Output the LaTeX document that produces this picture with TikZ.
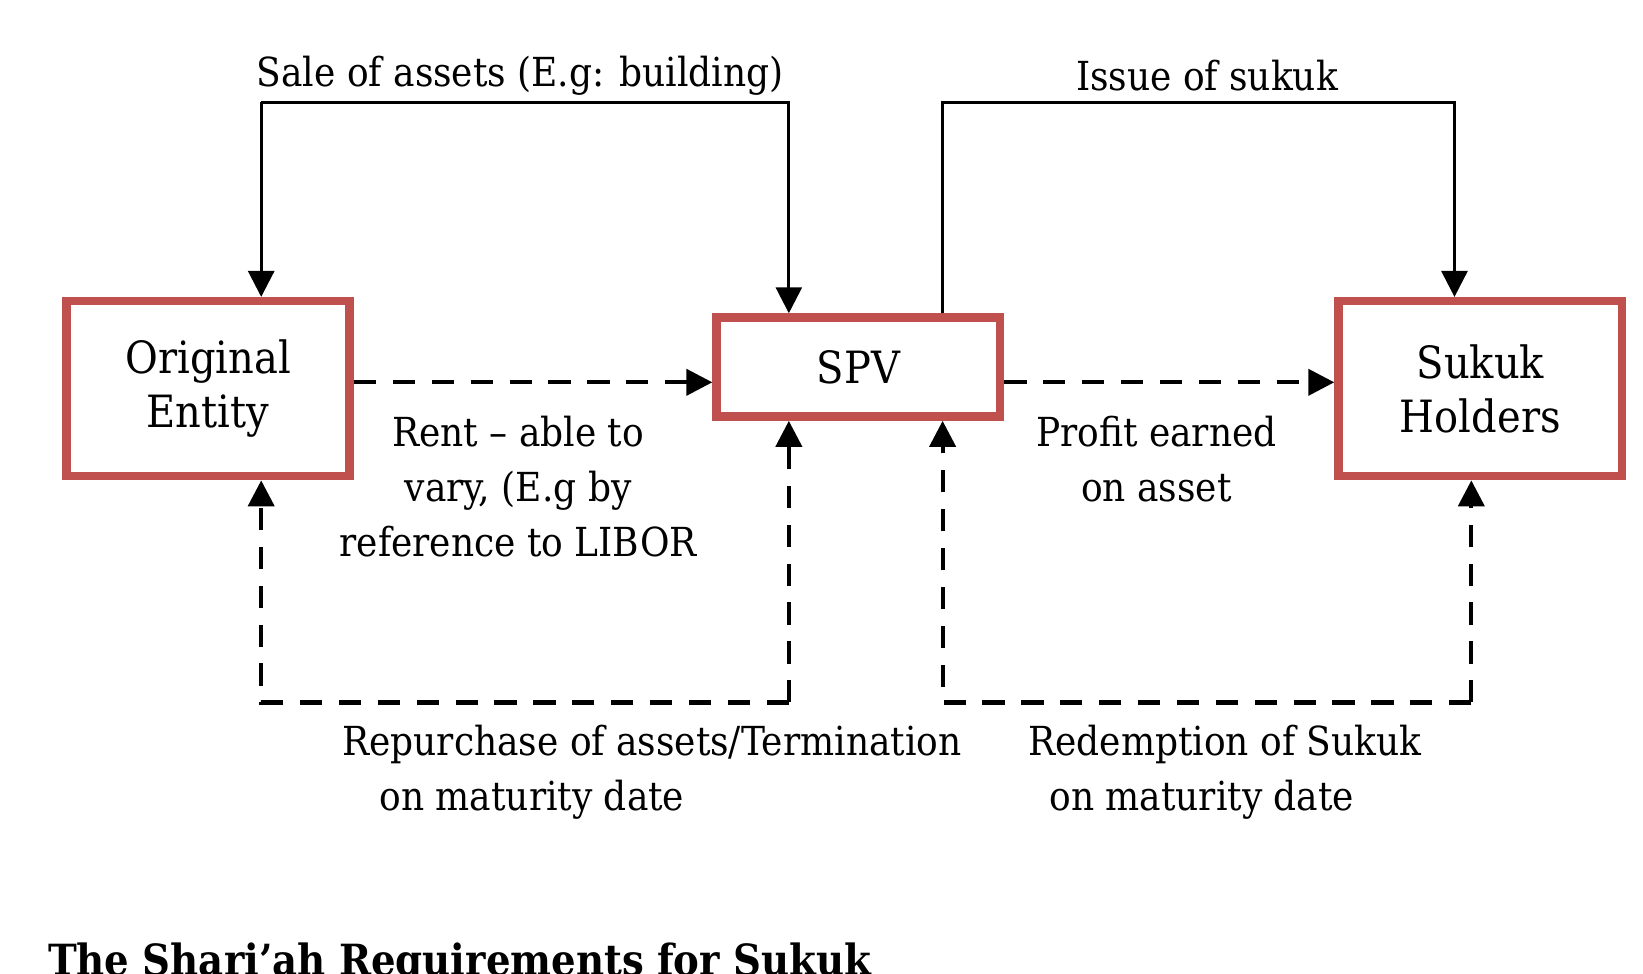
\documentclass[tikz,border=0pt]{standalone}
\usepackage{fontspec}
\setmainfont{DejaVu Serif Condensed}
\usetikzlibrary{arrows.meta, positioning}
\definecolor{boxcolor}{RGB}{192, 80, 77}

\begin{document}
\begin{tikzpicture}[
    x=0.01cm, y=-0.01cm,
    % Party boxes
    party/.style={
        rectangle,
        draw=boxcolor,
        line width=2.3pt,
        align=center,
        inner sep=0pt,
        minimum width=2.69cm,
        font=\fontsize{12}{14.5}\selectfont
    },
    % Solid flow arrow
    flow/.style={
        -{Triangle[length=7pt, width=7pt]},
        line width=0.8pt
    },
    % Dashed flow arrow
    dflow/.style={
        flow,
        line width=1.1pt,
        dash pattern=on 6pt off 4.5pt
    },
    % Text labels
    label/.style={
        font=\fontsize{10.8}{14.8}\selectfont,
        align=center,
        inner sep=0pt
    }
]
\useasboundingbox (0,0) rectangle (1560,924);

% ===== PARTIES =====
\node[party, minimum height=1.66cm] (orig) at (197.5,369) {Original\\Entity};
\node[party, minimum height=0.94cm] (spv) at (815,348.5) {SPV};
\node[party, minimum height=1.66cm] (holders) at (1405.5,369) {Sukuk\\Holders};

% ===== TOP ROUTES =====
\coordinate (saleL) at (248,97);
\coordinate (saleR) at (749,97);
\coordinate (issueL) at (895,97);
\coordinate (issueR) at (1381,97);
\draw[flow] (saleL) -- (orig.north -| saleL);
\draw[flow] (saleL) -- (saleR) -- (spv.north -| saleR);
\draw[flow] (spv.north -| issueL) -- (issueL) -- (issueR) -- (holders.north -| issueR);

% ===== MIDDLE ROUTES =====
\draw[dflow] (orig.east |- 0,363) -- (spv.west |- 0,363);
\draw[dflow] (spv.east |- 0,363) -- (holders.west |- 0,363);

% ===== BOTTOM ROUTES =====
\coordinate (repL) at (248,667);
\coordinate (repR) at (749,667);
\coordinate (redL) at (895,667);
\coordinate (redR) at (1397,667);
\draw[dflow] (repR) -- (repL) -- (orig.south -| repL);
\draw[dflow] (repR) -- (spv.south -| repR);
\draw[dflow] (redR) -- (redL) -- (spv.south -| redL);
\draw[dflow] (redR) -- (holders.south -| redR);

% ===== LABELS =====
\node[label] (salelbl) at (494,72) {Sale of assets (E.g: building)};
\node[label] (issuelbl) at (1146,72) {Issue of sukuk};
\node[label] (rentlbl) at (492,462) {Rent -- able to\\vary, (E.g by\\reference to LIBOR};
\node[label] (profitlbl) at (1098,436) {Profit earned\\on asset};
\node[label] (replbl1) at (619,707) {Repurchase of assets/Termination};
\node[label] (replbl2) at (505,759) {on maturity date};
\node[label] (redlbl1) at (1163,707) {Redemption of Sukuk};
\node[label] (redlbl2) at (1141,759) {on maturity date};

% ===== HEADING =====
\node[label, anchor=west, font=\fontsize{11.6}{14}\selectfont\bfseries] (title) at (45,915)
    {The Shari’ah Requirements for Sukuk};
\end{tikzpicture}
\end{document}
